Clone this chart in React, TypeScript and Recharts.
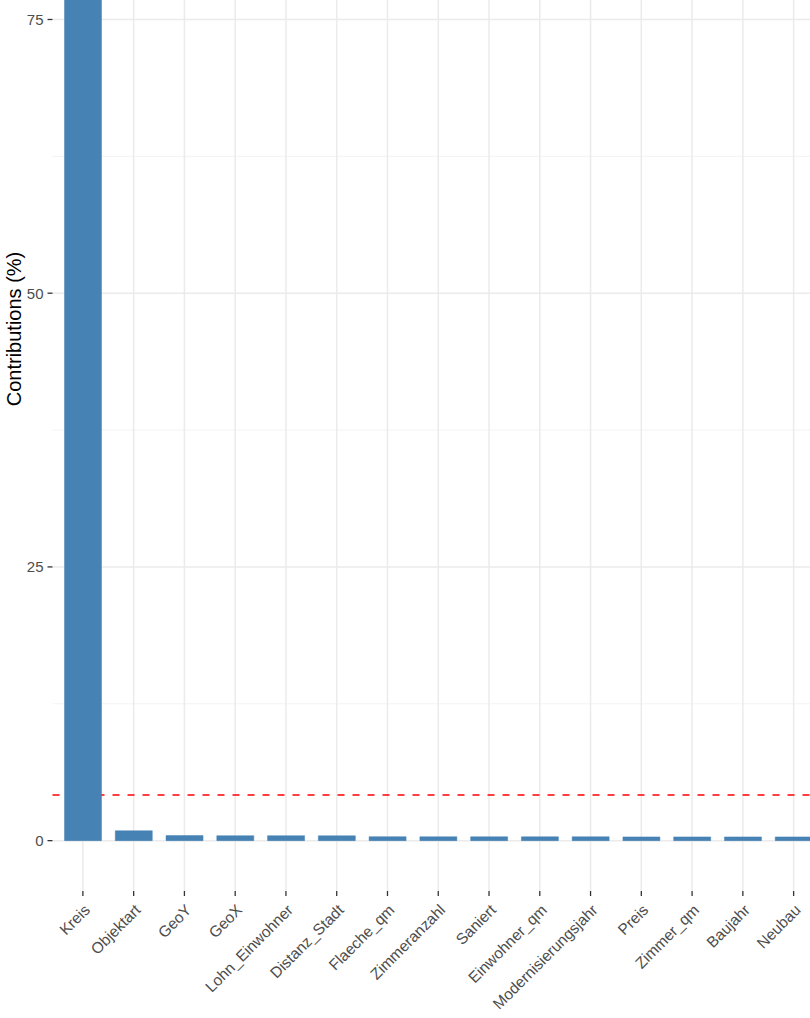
import React from 'react'
import { BarChart, Bar, XAxis, YAxis, CartesianGrid, ReferenceLine } from 'recharts'

const variables = [
  'Kreis', 'Objektart', 'GeoY', 'GeoX', 'Lohn_Einwohner', 'Distanz_Stadt', 'Flaeche_qm',
  'Zimmeranzahl', 'Saniert', 'Einwohner_qm', 'Modernisierungsjahr', 'Preis', 'Zimmer_qm',
  'Baujahr', 'Neubau',
]
const contributions = [92, 0.9, 0.46, 0.45, 0.45, 0.44, 0.36, 0.35, 0.35, 0.35, 0.35, 0.34, 0.34, 0.34, 0.34]
const yTicks = [0, 25, 50, 75]
const minorTicks = [12.5, 37.5, 62.5, 87.5]
const expected = 100 / 24 // 24 variables in total

const data = variables.map((name, i) => ({ name, value: contributions[i] }))

const FONT = '"Liberation Sans", Arial, sans-serif'

function XTick({ x, y, payload }: any) {
  return (
    <g transform={`translate(${x + 8},${y + 13})`}>
      <text textAnchor="end" transform="rotate(-45)" fill="#4d4d4d" fontSize={15.5} fontFamily={FONT}>
        {payload.value}
      </text>
    </g>
  )
}

function YTitle({ viewBox }: any) {
  const cx = 21
  const cy = viewBox.y + viewBox.height / 2 - 8
  return (
    <text x={cx} y={cy} transform={`rotate(-90, ${cx}, ${cy})`} textAnchor="middle"
      fill="#000" fontSize={20} fontFamily={FONT}>
      Contributions (%)
    </text>
  )
}

export default function App() {
  return (
    <div style={{ position: 'fixed', top: 0, left: 0, width: 810, height: 1018, overflow: 'hidden', background: '#fff' }}>
      <div style={{ position: 'absolute', top: -217, left: 0 }}>
        <BarChart width={824} height={1235} data={data} margin={{ top: 0, right: 0, bottom: 0, left: 0 }}>
          <CartesianGrid horizontalValues={minorTicks} vertical={false} stroke="#f3f3f3" strokeWidth={1} />
          <CartesianGrid horizontalValues={yTicks} verticalValues={variables} stroke="#ebebeb" strokeWidth={1.5} />
          <XAxis
            dataKey="name"
            interval={0}
            height={127}
            padding={{ left: 5, right: 5 }}
            axisLine={false}
            tickSize={5}
            tickLine={{ stroke: '#333', strokeWidth: 1.3 }}
            tick={<XTick />}
          />
          <YAxis
            width={52.5}
            type="number"
            domain={[-4.6, 96.6]}
            ticks={yTicks}
            axisLine={false}
            tickSize={5}
            tickMargin={4}
            tickLine={{ stroke: '#333', strokeWidth: 1.3 }}
            tick={{ fill: '#4d4d4d', fontSize: 15, fontFamily: FONT }}
            label={<YTitle />}
          />
          <ReferenceLine y={expected} stroke="#ff0000" strokeWidth={1.6} strokeDasharray="7 8" zIndex={250} />
          <Bar dataKey="value" fill="#4682b4" stroke="#4682b4" strokeWidth={0.5} barSize={37} isAnimationActive={false} />
        </BarChart>
      </div>
    </div>
  )
}
